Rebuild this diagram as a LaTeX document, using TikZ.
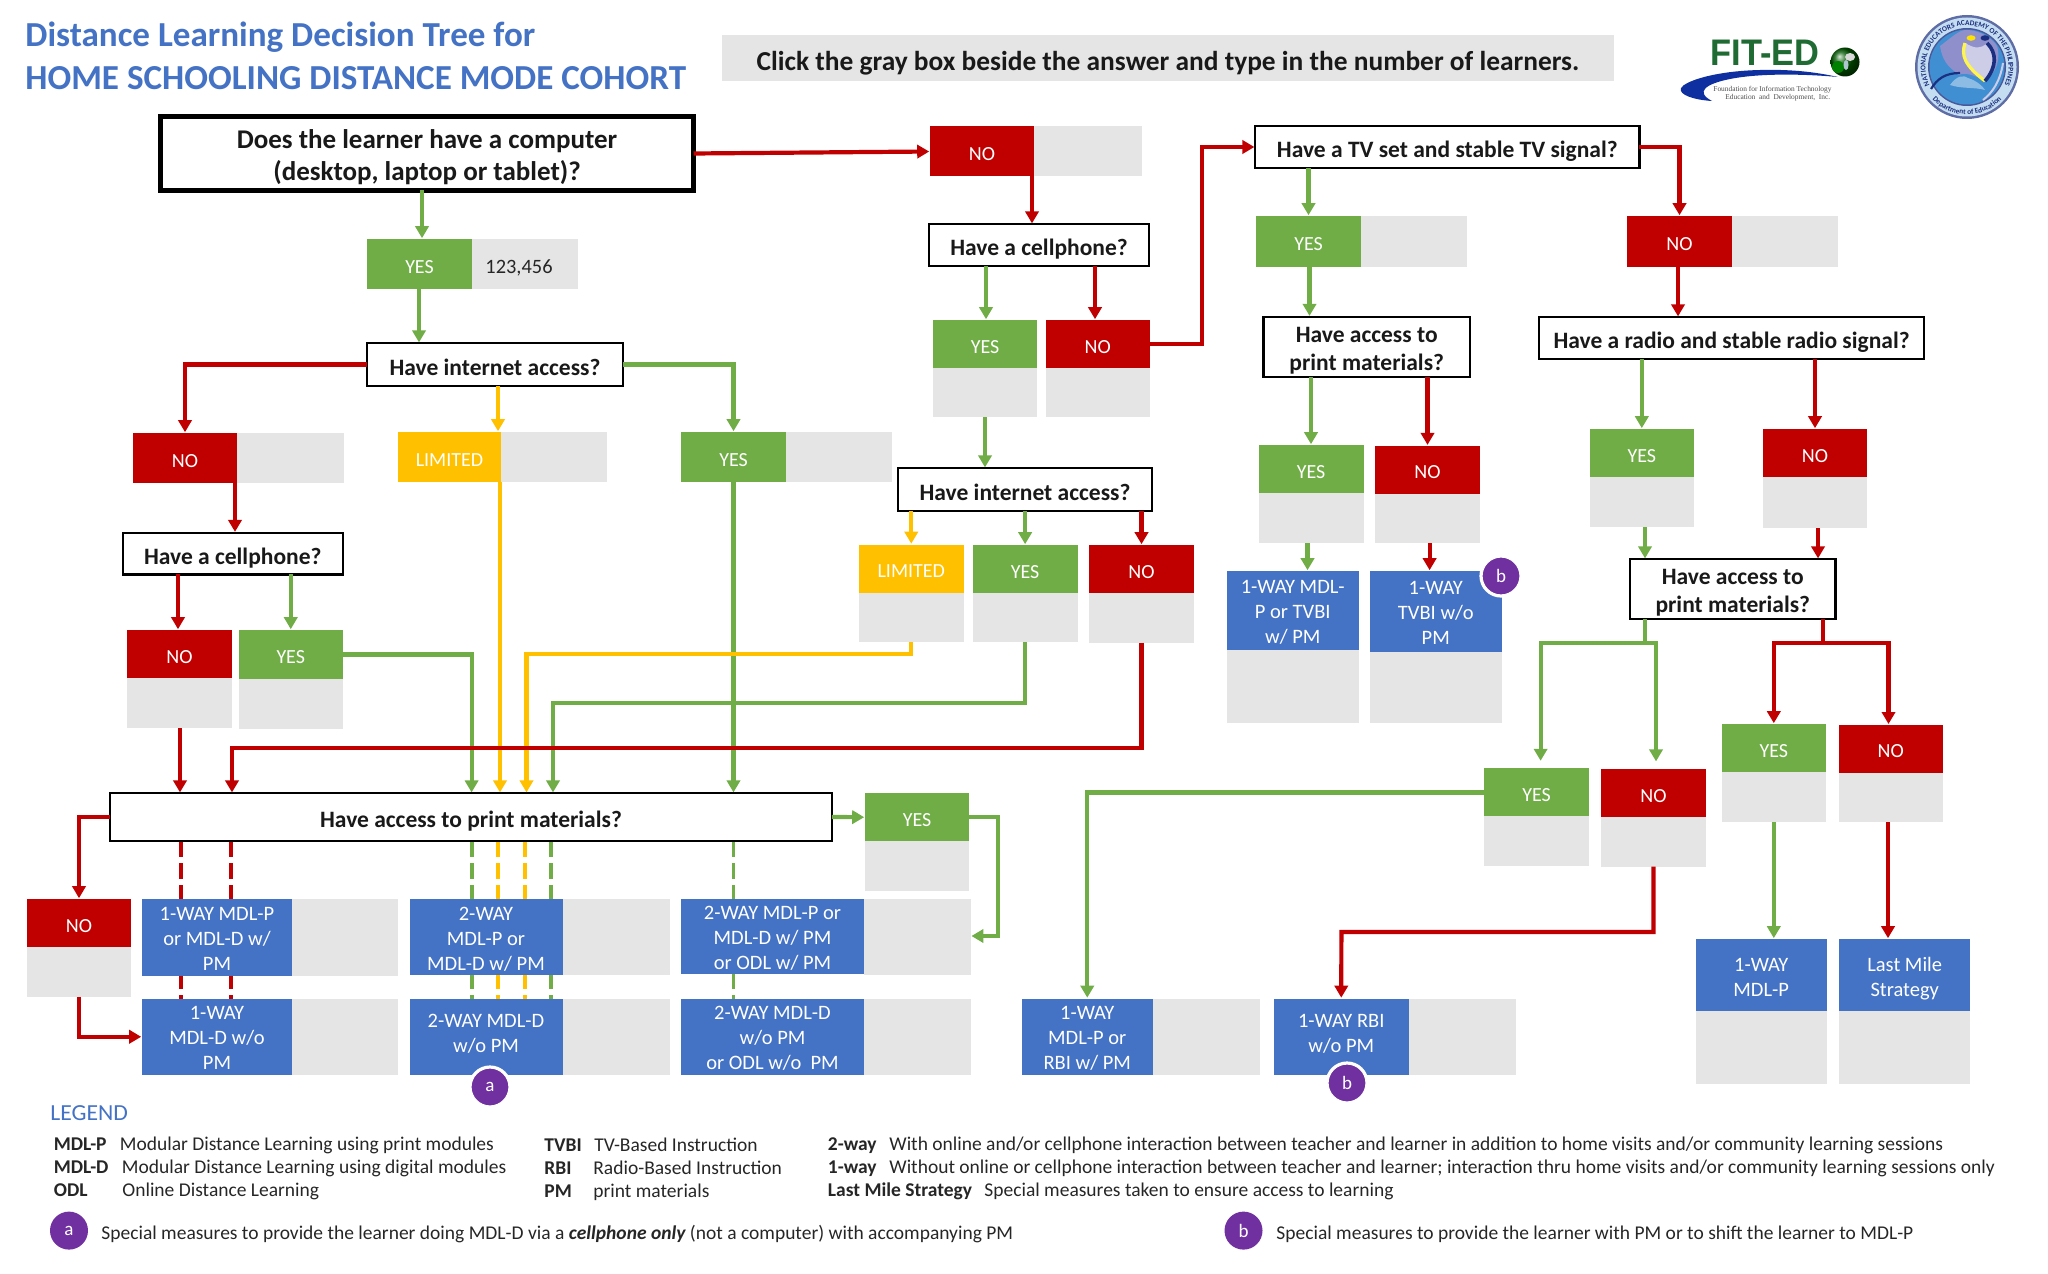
\documentclass[tikz,border=0pt]{standalone}
\usepackage{fontspec}
\setmainfont{Carlito}
\newfontfamily\logosans{Liberation Sans}
\newfontfamily\logoserif{Liberation Serif}
\usetikzlibrary{arrows.meta,backgrounds,decorations.text}
\definecolor{cred}{HTML}{C00000}
\definecolor{cgreen}{HTML}{70AD47}
\definecolor{cyellow}{HTML}{FFC000}
\definecolor{cblue}{HTML}{4472C4}
\definecolor{cgray}{HTML}{E5E5E5}
\definecolor{cpurple}{HTML}{7030A0}
\definecolor{ctext}{HTML}{262626}
\definecolor{fitgreen}{HTML}{1F6B33}
\definecolor{swoosh}{HTML}{0D2FA0}
\definecolor{sealblue}{HTML}{3F8FD2}
\definecolor{sealnavy}{HTML}{1B2F80}
\definecolor{seallav}{HTML}{8F8FCB}
\newcommand\sealfont{\fontsize{3.7}{4}\bfseries\selectfont\color{sealnavy}}
\tikzset{
  box/.style 2 args={minimum width=#1*0.5pt,minimum height=#2*0.5pt},
  qbox/.style 2 args={minimum width=(#1-2.4)*0.5pt,minimum height=(#2-2.4)*0.5pt,xshift=0.6pt,yshift=-0.6pt},
  cell/.style={anchor=north west,inner sep=0pt,outer sep=0pt,align=center,
    execute at begin node={\rule{0pt}{1.1em}},execute at end node={\rule[-0.2em]{0pt}{0.1pt}}},
  twoline/.style={execute at begin node={\rule{0pt}{\dimexpr\baselineskip+1.05em\relax}}},
  threeline/.style={execute at begin node={\rule{0pt}{\dimexpr2\baselineskip+1.0em\relax}}},
  answer/.style={cell,text=white,font=\fontsize{10}{12}\selectfont},
  ansno/.style={answer,fill=cred},
  ansyes/.style={answer,fill=cgreen},
  anslim/.style={answer,fill=cyellow},
  graybox/.style={cell,fill=cgray,font=\fontsize{10.2}{12}\selectfont,text=ctext},
  outcome/.style={cell,fill=cblue,text=white,font=\fontsize{10.25}{12.5}\selectfont},
  ques/.style={cell,draw=black,fill=white,line width=1.2pt,font=\fontsize{11.75}{14}\bfseries\selectfont,text=black!90},
  badge/.style={circle,fill=cpurple,draw=white,line width=1.6pt,minimum size=20pt,inner sep=0pt,text=white,font=\fontsize{9.5}{11}\selectfont},
  badgeplain/.style={circle,fill=cpurple,minimum size=19pt,inner sep=0pt,text=white,font=\fontsize{9.5}{11}\selectfont},
  conn/.style={line width=2.1pt,-{Triangle[length=6pt,width=6.6pt]},shorten >=0.4pt},
  cr/.style={conn,draw=cred},
  cg/.style={conn,draw=cgreen},
  cy/.style={conn,draw=cyellow},
  dashline/.style={line width=1.9pt,dash pattern=on 8pt off 3pt},
  legendtext/.style={anchor=base west,inner sep=0pt,text=ctext,font=\fontsize{9.75}{11}\selectfont},
  legendterm/.style={legendtext,font=\fontsize{9.75}{11}\bfseries\selectfont},
  titletext/.style={anchor=base west,inner sep=0pt,text=cblue,font=\fontsize{17.55}{20}\bfseries\selectfont},
}
\begin{document}
\begin{tikzpicture}[x=0.5pt,y=-0.5pt]
\useasboundingbox (0,0) rectangle (2048,1273);

% title
\node[titletext] (title1) at (25,47) {Distance Learning Decision Tree for};
\node[titletext] (title2) at (25,89.6) {HOME SCHOOLING DISTANCE MODE COHORT};
\node[cell,fill=cgray,box={892}{46},font=\fontsize{13.7}{15}\bfseries\selectfont,text=black!90] (click) at (722,35) {Click the gray box beside the answer and type in the number of learners.};

% FIT-ED logo
\fill[swoosh] (1681,88) .. controls (1685,81) and (1715,71) .. (1760,70) .. controls (1795,69) and (1820,73) .. (1838,77)
  .. controls (1805,74) and (1760,73) .. (1730,79) .. controls (1705,84) and (1695,92) .. (1712,101)
  .. controls (1695,100) and (1678,95) .. (1681,88) -- cycle;
\node[anchor=base west,inner sep=0pt,text=fitgreen,font=\logosans\bfseries\fontsize{18.5}{20}\selectfont] (fited) at (1710,66) {\scalebox{0.93}[1]{FIT-ED}};
\node[anchor=base west,inner sep=0pt,text=black!70,font=\logoserif\fontsize{3.7}{4}\selectfont] (fit1) at (1713,92) {Foundation for Information Technology};
\node[anchor=base west,inner sep=0pt,text=black!70,font=\logoserif\fontsize{3.7}{4}\selectfont] (fit2) at (1725,100) {Education\ \ and\ \ Development,\ \ Inc.};
\shade[ball color=green!35!black] (1845,62) circle[radius=14.5];
\fill[green!50!black] (1838,67) ellipse[x radius=6,y radius=6];
\fill[white!70!gray] (1850,57) ellipse[x radius=5,y radius=4];
\fill[white!70!cyan!60!gray] (1846,65) ellipse[x radius=2.5,y radius=5];

% seal
\begin{scope}[shift={(1967,67)},x=0.5pt,y=0.5pt]
  \fill[sealnavy!70!white] (0,0) circle[radius=52];
  \fill[white!70!sealblue] (0,0) circle[radius=49.5];
  \fill[sealnavy!80!white] (0,0) circle[radius=39];
  \fill[sealblue] (0,0) circle[radius=37.5];
  \fill[seallav] (-27,21) .. controls (-15,30) and (-8,37) .. (-1,37) .. controls (15,37) and (31,25) .. (31,17)
    .. controls (33,0) and (25,-8) .. (18,-14) .. controls (8,-8) and (-3,-5) .. (-8,-8) .. controls (-15,-2) and (-24,2) .. (-27,21) -- cycle;
  \fill[white!55!seallav] (-2,24) .. controls (-6,14) and (-3,2) .. (18,-14) .. controls (30,0) and (30,15) .. (20,24) .. controls (14,18) and (8,18) .. (-2,24) -- cycle;
  \draw[line width=1.6pt,yellow!70!white] (-2,24) .. controls (-6,12) and (-3,2) .. (18,-14);
  \draw[line width=1.8pt,sealnavy] (20,24) .. controls (30,14) and (30,0) .. (18,-14);
  \fill[yellow!85!orange] (4,29) ellipse[x radius=4.5,y radius=2.8];
  \fill[sealnavy] (18,29) ellipse[x radius=4.5,y radius=2.8];
  \draw[line width=1.1pt,sealnavy] (-36,-22) .. controls (-30,-12) and (-22,-6) .. (-7,-6);
  \fill[white!40!sealblue] (-17,-18) .. controls (-10,-8) and (-3,-8) .. (1,-11) .. controls (8,-13) and (15,-18) .. (18,-23) .. controls (8,-20) and (-5,-22) .. (-17,-18) -- cycle;
  \draw[line width=1pt,white!55!seallav] (36,4) .. controls (33,-15) and (25,-26) .. (16,-33);
  \path[decorate,decoration={text along path,text align=center,text={|\sealfont|NATIONAL EDUCATORS ACADEMY OF THE PHILIPPINES}}]
    (215:41.5) arc[start angle=215,end angle=-35,radius=41.5];
  \path[decorate,decoration={text along path,text align=center,text={|\sealfont|Department of Education}}]
    (218:47.5) arc[start angle=218,end angle=322,radius=47.5];
\end{scope}

% boxes, upper left
\node[ques,twoline,qbox={535.4}{76.4},line width=2.3pt,font=\fontsize{13.5}{16}\bfseries\selectfont] (q1) at (159.3,115.3) {Does the learner have a computer\\(desktop, laptop or tablet)?};
\node[ansyes,box={105}{50}] (yes1) at (367,239) {YES};
\node[graybox,box={106}{50}] (yes1g) at (472,239) {123,456\hspace{6pt}};
\node[ques,qbox={258}{45}] (netq) at (366,342) {Have internet access?};
\node[ansno,box={104}{50}] (nL) at (133,433) {NO};
\node[graybox,box={107}{50}] (nLg) at (237,433) {};
\node[anslim,box={103}{50}] (lim) at (398,432) {LIMITED};
\node[graybox,box={106}{50}] (limg) at (501,432) {};
\node[ansyes,box={105}{50}] (yL) at (681,432) {YES};
\node[graybox,box={106}{50}] (yLg) at (786,432) {};
\node[ques,qbox={222.5}{44}] (cellL) at (121.5,531.5) {Have a cellphone?};
\node[ansno,box={105}{48}] (nC) at (127,630) {NO};
\node[graybox,box={105}{50}] (nCg) at (127,678) {};
\node[ansyes,box={104.5}{49}] (yC) at (238.5,630) {YES};
\node[graybox,box={104.5}{50}] (yCg) at (238.5,679) {};

% upper middle
\node[ansno,box={104}{50}] (n1) at (930,126.5) {NO};
\node[graybox,box={108}{50}] (n1g) at (1034,126.5) {};
\node[ques,qbox={222}{44}] (cellA) at (928,223) {Have a cellphone?};
\node[ansyes,box={104}{48}] (yA) at (933,320) {YES};
\node[graybox,box={104}{49}] (yAg) at (933,368) {};
\node[ansno,box={104.5}{48}] (nA) at (1045.5,320) {NO};
\node[graybox,box={104.5}{49}] (nAg) at (1045.5,368) {};
\node[ques,qbox={256}{45}] (netB) at (897,467) {Have internet access?};
\node[anslim,box={104.5}{48}] (limB) at (859,544.5) {LIMITED};
\node[graybox,box={104.5}{49.5}] (limBg) at (859,592.5) {};
\node[ansyes,box={105}{48}] (yB) at (972.6,545) {YES};
\node[graybox,box={105}{49}] (yBg) at (972.6,593) {};
\node[ansno,box={105}{48}] (nB) at (1089,545) {NO};
\node[graybox,box={105}{49.5}] (nBg) at (1089,593) {};

% TV column
\node[ques,qbox={386.6}{44}] (tv) at (1254,125) {Have a TV set and stable TV signal?};
\node[ansyes,box={105}{51}] (yT) at (1256,216) {YES};
\node[graybox,box={106}{51}] (yTg) at (1361,216) {};
\node[ansno,box={105}{51}] (nT) at (1627,216) {NO};
\node[graybox,box={106}{51}] (nTg) at (1732,216) {};
\node[ques,twoline,qbox={208.6}{62.5}] (acc1) at (1262.4,315.5) {Have access to\\print materials?};
\node[ques,qbox={387}{44}] (radio) at (1538,316) {Have a radio and stable radio signal?};
\node[ansyes,box={105}{48}] (yP) at (1258.5,445) {YES};
\node[graybox,box={105}{50}] (yPg) at (1258.5,493) {};
\node[ansno,box={105}{48}] (nP) at (1375,445.7) {NO};
\node[graybox,box={105}{49.3}] (nPg) at (1375,493.7) {};
\node[outcome,threeline,box={132.5}{79}] (blue7) at (1226.5,571) {1-WAY MDL-\\P or TVBI\\w/ PM};
\node[graybox,box={132.5}{73}] (blue7g) at (1226.5,650) {};
\node[outcome,threeline,box={131.5}{81}] (blue8) at (1370,571) {1-WAY\\TVBI w/o\\PM};
\node[graybox,box={131.5}{71}] (blue8g) at (1370,652) {};

% radio column
\node[ansyes,box={104.4}{48}] (yR) at (1589.6,429) {YES};
\node[graybox,box={104.4}{50}] (yRg) at (1589.6,477) {};
\node[ansno,box={104}{48}] (nR) at (1763,429) {NO};
\node[graybox,box={104}{51}] (nRg) at (1763,477) {};
\node[ques,twoline,qbox={207.5}{62}] (acc2) at (1629,558) {Have access to\\print materials?};
\node[ansyes,box={105}{48}] (yS) at (1484,768.4) {YES};
\node[graybox,box={105}{49.4}] (ySg) at (1484,816.4) {};
\node[ansno,box={105}{48}] (nS) at (1601,769) {NO};
\node[graybox,box={105}{49.5}] (nSg) at (1601,817) {};
\node[ansyes,box={104.4}{48}] (yQ) at (1721.6,724) {YES};
\node[graybox,box={104.4}{50}] (yQg) at (1721.6,772) {};
\node[ansno,box={104.5}{48}] (nQ) at (1838.5,724.8) {NO};
\node[graybox,box={104.5}{49.5}] (nQg) at (1838.5,772.8) {};
\node[outcome,twoline,box={131.5}{72.4}] (blue11) at (1695.5,939) {1-WAY\\MDL-P};
\node[graybox,box={131.5}{73}] (blue11g) at (1695.5,1011.4) {};
\node[outcome,twoline,box={131.4}{72.4}] (blue12) at (1839,939) {Last Mile\\Strategy};
\node[graybox,box={131.4}{73}] (blue12g) at (1839,1011.4) {};

% lower band
\node[ques,qbox={724}{50}] (print) at (109,792) {Have access to print materials?};
\node[ansyes,box={104}{47.6}] (yD) at (865,793.4) {YES};
\node[graybox,box={104}{50}] (yDg) at (865,841) {};
\node[ansno,box={104}{48}] (nE) at (27,899) {NO};
\node[graybox,box={104}{49.5}] (nEg) at (27,947) {};
\node[outcome,threeline,box={150}{76.5}] (blue1) at (142,899) {1-WAY MDL-P\\or MDL-D w/\\PM};
\node[graybox,box={106}{76.5}] (blue1g) at (292,899) {};
\node[outcome,threeline,box={150}{76.5}] (blue2) at (142,998.5) {1-WAY\\MDL-D w/o\\PM};
\node[graybox,box={106}{76.5}] (blue2g) at (292,998.5) {};
\node[outcome,threeline,box={153}{76}] (blue3) at (409.5,899) {2-WAY\\MDL-P or\\MDL-D w/ PM};
\node[graybox,box={107}{76}] (blue3g) at (562.5,899) {};
\node[outcome,box={153}{76.5}] (blue4) at (409.5,998.5) {2-WAY MDL-D\\w/o PM\\[-11pt]~};
\node[graybox,box={107}{76.5}] (blue4g) at (562.5,998.5) {};
\node[outcome,threeline,box={183}{73.6}] (blue5) at (681,899) {2-WAY MDL-P or\\MDL-D w/ PM\\or ODL w/ PM};
\node[graybox,box={106.6}{76}] (blue5g) at (864,899) {};
\node[outcome,threeline,box={183}{76.5}] (blue6) at (681,998.5) {2-WAY MDL-D\\w/o PM\\or ODL w/o\ \ PM};
\node[graybox,box={106.6}{76.5}] (blue6g) at (864,998.5) {};
\node[outcome,threeline,box={131.5}{76.5}] (blue9) at (1021.5,998.5) {1-WAY\\MDL-P or\\RBI w/ PM};
\node[graybox,box={107}{76.5}] (blue9g) at (1153,998.5) {};
\node[outcome,box={135.5}{76.5}] (blue10) at (1273.5,998.5) {1-WAY RBI\\w/o PM\\[-11pt]~};
\node[graybox,box={107}{76.5}] (blue10g) at (1409,998.5) {};

% bend points
\coordinate (ybus) at (526.5,654);
\coordinate (gbus) at (553,703);
\coordinate (rbus) at (232,748);
\coordinate (dbend) at (998,936);
\coordinate (gfork) at (1645,643);
\coordinate (rfork) at (1823,643);
\coordinate (rbend) at (1341.4,932);

% dashed pass-through lines, behind the outcome boxes
\begin{scope}[on background layer]
  \draw[dashline,cred] (181,0 |- print.south) -- (181,0 |- blue2.north);
  \draw[dashline,cred] (231,0 |- print.south) -- (231,0 |- blue2.north);
  \draw[dashline,cgreen] (472,0 |- print.south) -- (472,0 |- blue4.north);
  \draw[dashline,cyellow] (498,0 |- print.south) -- (498,0 |- blue4.north);
  \draw[dashline,cyellow] (525,0 |- print.south) -- (525,0 |- blue4.north);
  \draw[dashline,cgreen] (551,0 |- print.south) -- (551,0 |- blue4.north);
  \draw[dashline,cgreen] (733.5,0 |- print.south) -- (733.5,0 |- blue6.north);
\end{scope}

% connectors: green and yellow first, red on top
\draw[cg] (422,0 |- q1.south) -- (422,0 |- yes1.north);
\draw[cg] (419,0 |- yes1.south) -- (419,0 |- netq.north);
\draw[cy] (498,0 |- netq.south) -- (498,0 |- lim.north);
\draw[cy] (500,0 |- lim.south) -- (500,0 |- print.north);
\draw[cg] (netq.east) -| (yL.north);
\draw[cg] (yL.south) -- (yL.south |- print.north);
\draw[cg] (yC.north |- cellL.south) -- (yC.north);
\draw[cg] (yC.east) -| (471.6,0 |- print.north);
\draw[cy] (limBg.south) |- (ybus) -- (ybus |- print.north);
\draw[cg] (yBg.south) |- (gbus) -- (gbus |- print.north);
\draw[cg] (print.east) -- (yD.west);
\draw[cg] (yD.east) -| (dbend) -- (blue5g.east |- dbend);
\draw[cg] (986,0 |- cellA.south) -- (986,0 |- yA.north);
\draw[cg] (yAg.south) -- (yAg.south |- netB.north);
\draw[cy] (limB.north |- netB.south) -- (limB.north);
\draw[cg] (yB.north |- netB.south) -- (yB.north);
\draw[cg] (yT.north |- tv.south) -- (yT.north);
\draw[cg] (1309.5,0 |- yT.south) -- (1309.5,0 |- acc1.north);
\draw[cg] (yP.north |- acc1.south) -- (yP.north);
\draw[cg] (1307.5,0 |- yPg.south) -- (1307.5,0 |- blue7.north);
\draw[cg] (yR.north |- radio.south) -- (yR.north);
\draw[cg] (1645,0 |- yRg.south) -- (1645,0 |- acc2.north);
\draw[cg,shorten >=3.8pt] (gfork |- acc2.south) -- (gfork) -| (1540.6,0 |- yS.north);
\draw[cg,shorten >=3.8pt] (gfork) -| (1656,0 |- nS.north);
\draw[cg] (yS.west) -| (blue9.north);
\draw[cg] (yQg.south) -- (yQg.south |- blue11.north);

\draw[cr] (q1.east) -- (n1.west);
\draw[cr] (1032,0 |- n1.south) -- (1032,0 |- cellA.north);
\draw[cr] (1095,0 |- cellA.south) -- (1095,0 |- nA.north);
\draw[cr] (nA.east) -- (1201.7,0 |- nA.east) |- (tv.west);
\draw[cr] (netq.west) -| (nL.north);
\draw[cr] (235,0 |- nL.south) -- (235,0 |- cellL.north);
\draw[cr] (178,0 |- cellL.south) -- (178,0 |- nC.north);
\draw[cr] (180,0 |- nCg.south) -- (180,0 |- print.north);
\draw[cr] (nBg.south) |- (rbus) -- (rbus |- print.north);
\draw[cr] (nB.north |- netB.south) -- (nB.north);
\draw[cr] (print.west) -| (nE.north);
\draw[cr] (nEg.south) |- (blue2.west);
\draw[cr] (tv.east) -| (nT.north);
\draw[cr] (1678,0 |- nT.south) -- (1678,0 |- radio.north);
\draw[cr] (nP.north |- acc1.south) -- (nP.north);
\draw[cr] (1429.6,0 |- nPg.south) -- (1429.6,0 |- blue8.north);
\draw[cr] (nR.north |- radio.south) -- (nR.north);
\draw[cr] (1818,0 |- nRg.south) -- (1818,0 |- acc2.north);
\draw[cr] (rfork |- acc2.south) -- (rfork) -| (yQ.north);
\draw[cr] (rfork) -| (1888.5,0 |- nQ.north);
\draw[cr] (1888,0 |- nQg.south) -- (1888,0 |- blue12.north);
\draw[cr] (nSg.south) |- (rbend) -- (blue10.north);

% badges
\node[badge] (ba) at (490,1087) {a};
\node[badge] (bb1) at (1347,1083) {b};
\node[badge] (bb2) at (1501,576) {b};

% legend
\node[anchor=base west,inner sep=0pt,text=cblue,font=\fontsize{11.5}{14}\selectfont] (legend) at (50,1120) {\scalebox{1.03}[1]{LEGEND}};
\node[legendterm] (t1) at (53.5,1150) {MDL-P};
\node[legendtext] (d1) at (119.5,1150) {Modular Distance Learning using print modules};
\node[legendterm] (t2) at (53.5,1173.5) {MDL-D};
\node[legendtext] (d2) at (121.5,1173.5) {Modular Distance Learning using digital modules};
\node[legendterm] (t3) at (53.5,1196.5) {ODL};
\node[legendtext] (d3) at (122,1196.5) {Online Distance Learning};
\node[legendterm] (t4) at (544,1151) {TVBI};
\node[legendtext] (d4) at (594,1151) {TV-Based Instruction};
\node[legendterm] (t5) at (544,1174.5) {RBI};
\node[legendtext] (d5) at (593,1174.5) {Radio-Based Instruction};
\node[legendterm] (t6) at (544,1197) {PM};
\node[legendtext] (d6) at (593,1197) {print materials};
\node[legendterm] (t7) at (827.5,1150) {2-way};
\node[legendtext] (d7) at (889,1150) {With online and/or cellphone interaction between teacher and learner in addition to home visits and/or community learning sessions};
\node[legendterm] (t8) at (827.5,1173.5) {1-way};
\node[legendtext] (d8) at (889,1173.5) {Without online or cellphone interaction between teacher and learner; interaction thru home visits and/or community learning sessions only};
\node[legendterm] (t9) at (827.5,1196.5) {Last Mile Strategy};
\node[legendtext] (d9) at (984,1196.5) {Special measures taken to ensure access to learning};
\node[badgeplain] (ka) at (69,1230.6) {a};
\node[legendtext] (ta) at (101,1239) {Special measures to provide the learner doing MDL-D via a {\bfseries\itshape cellphone only} (not a computer) with accompanying PM};
\node[badgeplain] (kb) at (1243.5,1230.6) {b};
\node[legendtext] (tb) at (1276,1239) {Special measures to provide the learner with PM or to shift the learner to MDL-P};
\end{tikzpicture}
\end{document}
